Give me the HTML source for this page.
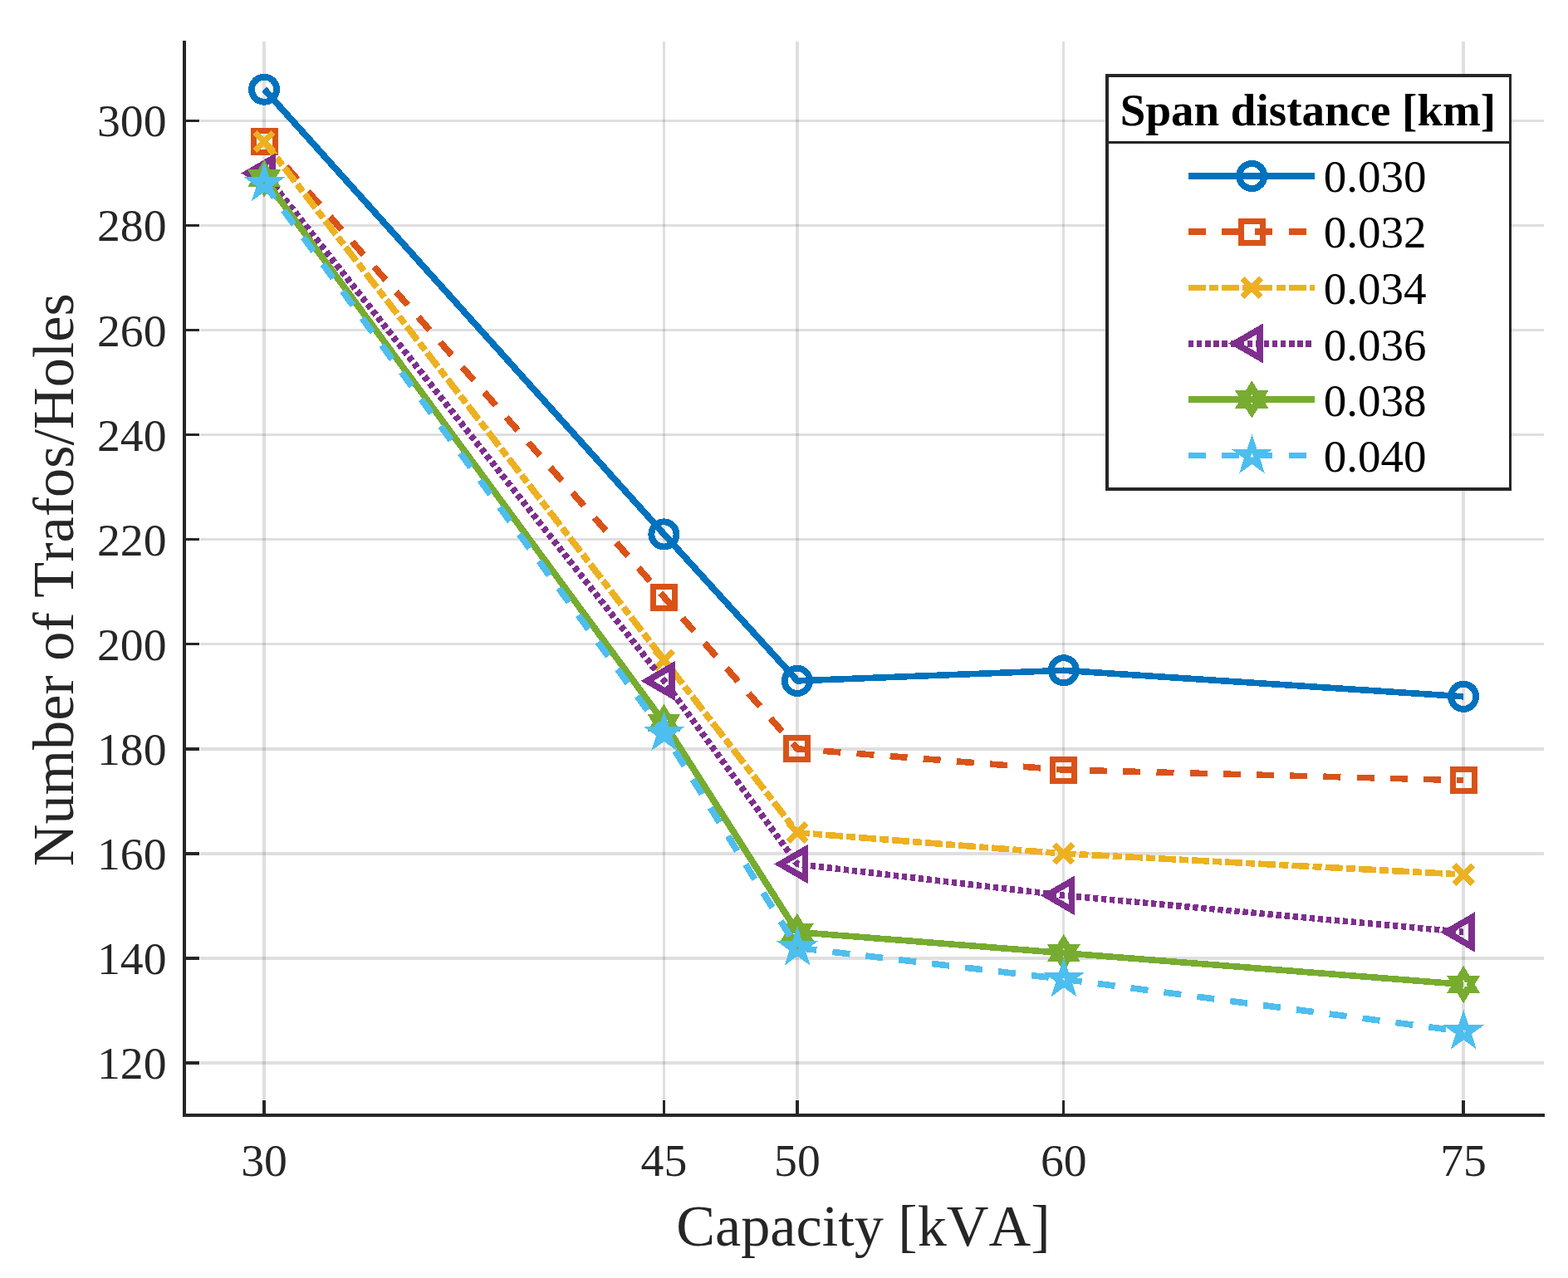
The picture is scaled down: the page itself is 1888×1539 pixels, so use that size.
<!DOCTYPE html>
<html lang="en">
<head>
<meta charset="utf-8">
<title>Number of Trafos/Holes vs Capacity</title>
<style>
html,body{margin:0;padding:0;background:#fff;}
body{width:1888px;height:1539px;overflow:hidden;}
svg{display:block;font-kerning:none;}
</style>
</head>
<body>
<svg width="1888" height="1539" viewBox="0 0 1888 1539" shape-rendering="crispEdges">
<rect width="1888" height="1539" fill="#fff"/>
<g fill="#262626" fill-opacity="0.15">
<rect x="316" y="50" width="4" height="1274"/>
<rect x="798" y="50" width="3" height="1274"/>
<rect x="958" y="50" width="4" height="1274"/>
<rect x="1279" y="50" width="3" height="1274"/>
<rect x="1760" y="50" width="4" height="1274"/>
<rect x="241" y="1278" width="1618" height="4"/>
<rect x="241" y="1152" width="1618" height="4"/>
<rect x="241" y="1026" width="1618" height="4"/>
<rect x="241" y="900" width="1618" height="4"/>
<rect x="241" y="774" width="1618" height="3"/>
<rect x="241" y="648" width="1618" height="3"/>
<rect x="241" y="522" width="1618" height="3"/>
<rect x="241" y="396" width="1618" height="3"/>
<rect x="241" y="270" width="1618" height="3"/>
<rect x="241" y="144" width="1618" height="3"/>
</g>
<g fill="#262626">
<rect x="220" y="49" width="4" height="1296"/>
<rect x="220" y="1341" width="1640" height="4"/>
<rect x="316" y="1325" width="4" height="17"/>
<rect x="798" y="1325" width="3" height="17"/>
<rect x="958" y="1325" width="4" height="17"/>
<rect x="1279" y="1325" width="3" height="17"/>
<rect x="1760" y="1325" width="4" height="17"/>
<rect x="223" y="1278" width="17" height="4"/>
<rect x="223" y="1152" width="17" height="4"/>
<rect x="223" y="1026" width="17" height="4"/>
<rect x="223" y="900" width="17" height="4"/>
<rect x="223" y="774" width="17" height="3"/>
<rect x="223" y="648" width="17" height="3"/>
<rect x="223" y="522" width="17" height="3"/>
<rect x="223" y="396" width="17" height="3"/>
<rect x="223" y="270" width="17" height="3"/>
<rect x="223" y="144" width="17" height="3"/>
</g>
<g font-family="'Liberation Serif', serif" font-size="55.7" fill="#262626">
<text x="318.1" y="1415.8" text-anchor="middle">30</text>
<text x="799.43" y="1415.8" text-anchor="middle">45</text>
<text x="959.88" y="1415.8" text-anchor="middle">50</text>
<text x="1280.77" y="1415.8" text-anchor="middle">60</text>
<text x="1762.1" y="1415.8" text-anchor="middle">75</text>
<text x="200.5" y="1299" text-anchor="end">120</text>
<text x="200.5" y="1173" text-anchor="end">140</text>
<text x="200.5" y="1047" text-anchor="end">160</text>
<text x="200.5" y="921" text-anchor="end">180</text>
<text x="200.5" y="795" text-anchor="end">200</text>
<text x="200.5" y="669" text-anchor="end">220</text>
<text x="200.5" y="543" text-anchor="end">240</text>
<text x="200.5" y="417" text-anchor="end">260</text>
<text x="200.5" y="290" text-anchor="end">280</text>
<text x="200.5" y="164" text-anchor="end">300</text>
</g>
<g font-family="'Liberation Serif', serif" font-size="70.2" fill="#262626">
<text x="1039.4" y="1500" text-anchor="middle">Capacity [kVA]</text>
<text transform="translate(88 698.3) rotate(-90)" text-anchor="middle">Number of Trafos/Holes</text>
</g>
<g>
<polyline points="318.1,107.68 799.43,643.42 959.88,819.9 1280.77,807.29 1762.1,838.81" fill="none" stroke="#0072BD" stroke-width="7.6" stroke-linejoin="round"/>
<polyline points="318.1,107.68 799.43,643.42 959.88,819.9" transform="translate(0.13 -0.12)" fill="none" stroke="#0072BD" stroke-width="7.95" stroke-linejoin="round"/>
<path d="M299.05 107.68A19.05 19.05 0 1 0 337.15 107.68A19.05 19.05 0 1 0 299.05 107.68ZM307 107.68A11.1 11.1 0 1 0 329.2 107.68A11.1 11.1 0 1 0 307 107.68Z" fill="#0072BD" fill-rule="evenodd"/>
<path d="M780.38 643.42A19.05 19.05 0 1 0 818.48 643.42A19.05 19.05 0 1 0 780.38 643.42ZM788.33 643.42A11.1 11.1 0 1 0 810.53 643.42A11.1 11.1 0 1 0 788.33 643.42Z" fill="#0072BD" fill-rule="evenodd"/>
<path d="M940.83 819.9A19.05 19.05 0 1 0 978.93 819.9A19.05 19.05 0 1 0 940.83 819.9ZM948.78 819.9A11.1 11.1 0 1 0 970.98 819.9A11.1 11.1 0 1 0 948.78 819.9Z" fill="#0072BD" fill-rule="evenodd"/>
<path d="M1261.72 807.29A19.05 19.05 0 1 0 1299.82 807.29A19.05 19.05 0 1 0 1261.72 807.29ZM1269.67 807.29A11.1 11.1 0 1 0 1291.87 807.29A11.1 11.1 0 1 0 1269.67 807.29Z" fill="#0072BD" fill-rule="evenodd"/>
<path d="M1743.05 838.81A19.05 19.05 0 1 0 1781.15 838.81A19.05 19.05 0 1 0 1743.05 838.81ZM1751 838.81A11.1 11.1 0 1 0 1773.2 838.81A11.1 11.1 0 1 0 1751 838.81Z" fill="#0072BD" fill-rule="evenodd"/>
</g>
<g>
<polyline points="318.1,170.71 799.43,719.05 959.88,901.83 1280.77,927.04 1762.1,939.65" fill="none" stroke="#D95319" stroke-width="7.6" stroke-linejoin="round" stroke-dasharray="21 19.2" stroke-dashoffset="0.5"/>
<polyline points="318.1,170.71 799.43,719.05 959.88,901.83" transform="translate(0.13 -0.12)" fill="none" stroke="#D95319" stroke-width="7.95" stroke-linejoin="round" stroke-dasharray="21 19.2" stroke-dashoffset="0.5"/>
<path d="M302 154h33v33h-33ZM309 161v19h19v-19Z" fill="#D95319" fill-rule="evenodd"/>
<path d="M783 703h33v33h-33ZM790 710v19h19v-19Z" fill="#D95319" fill-rule="evenodd"/>
<path d="M943 885h33v33h-33ZM950 892v19h19v-19Z" fill="#D95319" fill-rule="evenodd"/>
<path d="M1264 911h33v33h-33ZM1271 918v19h19v-19Z" fill="#D95319" fill-rule="evenodd"/>
<path d="M1746 923h33v33h-33ZM1753 930v19h19v-19Z" fill="#D95319" fill-rule="evenodd"/>
</g>
<g>
<polyline points="318.1,170.71 799.43,794.69 959.88,1002.68 1280.77,1027.89 1762.1,1053.1" fill="none" stroke="#EDB120" stroke-width="7.6" stroke-linejoin="round" stroke-dasharray="21 4.1 11 4.1" stroke-dashoffset="0.5"/>
<polyline points="318.1,170.71 799.43,794.69 959.88,1002.68" transform="translate(0.13 -0.12)" fill="none" stroke="#EDB120" stroke-width="7.95" stroke-linejoin="round" stroke-dasharray="21 4.1 11 4.1" stroke-dashoffset="0.5"/>
<path d="M309.55 157.06L331.75 179.26L326.65 184.36L304.45 162.16ZM309.55 184.36L304.45 179.26L326.65 157.06L331.75 162.16Z" fill="#EDB120"/>
<path d="M790.88 781.04L813.08 803.24L807.98 808.34L785.78 786.14ZM790.88 808.34L785.78 803.24L807.98 781.04L813.08 786.14Z" fill="#EDB120"/>
<path d="M951.33 989.03L973.53 1011.23L968.43 1016.33L946.23 994.13ZM951.33 1016.33L946.23 1011.23L968.43 989.03L973.53 994.13Z" fill="#EDB120"/>
<path d="M1272.22 1014.24L1294.42 1036.44L1289.32 1041.54L1267.12 1019.34ZM1272.22 1041.54L1267.12 1036.44L1289.32 1014.24L1294.42 1019.34Z" fill="#EDB120"/>
<path d="M1753.55 1039.45L1775.75 1061.65L1770.65 1066.75L1748.45 1044.55ZM1753.55 1066.75L1748.45 1061.65L1770.65 1039.45L1775.75 1044.55Z" fill="#EDB120"/>
</g>
<g>
<polyline points="318.1,208.53 799.43,819.9 959.88,1040.49 1280.77,1078.31 1762.1,1122.43" fill="none" stroke="#7E2F8E" stroke-width="7.6" stroke-linejoin="round" stroke-dasharray="6.3 3.77" stroke-dashoffset="0.5"/>
<polyline points="318.1,208.53 799.43,819.9 959.88,1040.49" transform="translate(0.13 -0.12)" fill="none" stroke="#7E2F8E" stroke-width="7.95" stroke-linejoin="round" stroke-dasharray="6.3 3.77" stroke-dashoffset="0.5"/>
<path d="M331.7 184.43L331.7 232.63L290.2 208.53ZM324 197.81L324 219.25L305.54 208.53Z" fill="#7E2F8E" fill-rule="evenodd"/>
<path d="M813.03 795.8L813.03 844L771.53 819.9ZM805.33 809.18L805.33 830.62L786.87 819.9Z" fill="#7E2F8E" fill-rule="evenodd"/>
<path d="M973.48 1016.39L973.48 1064.59L931.98 1040.49ZM965.78 1029.77L965.78 1051.21L947.32 1040.49Z" fill="#7E2F8E" fill-rule="evenodd"/>
<path d="M1294.37 1054.21L1294.37 1102.41L1252.87 1078.31ZM1286.67 1067.59L1286.67 1089.03L1268.21 1078.31Z" fill="#7E2F8E" fill-rule="evenodd"/>
<path d="M1775.7 1098.33L1775.7 1146.53L1734.2 1122.43ZM1768 1111.71L1768 1133.15L1749.54 1122.43Z" fill="#7E2F8E" fill-rule="evenodd"/>
</g>
<g>
<polyline points="318.1,214.83 799.43,870.32 959.88,1122.43 1280.77,1147.64 1762.1,1185.46" fill="none" stroke="#77AC30" stroke-width="7.6" stroke-linejoin="round"/>
<polyline points="318.1,214.83 799.43,870.32 959.88,1122.43" transform="translate(0.13 -0.12)" fill="none" stroke="#77AC30" stroke-width="7.95" stroke-linejoin="round"/>
<path d="M318.1 192.03L325.5 204.23L338.2 204.23L331.7 214.83L338.2 225.43L325.5 225.43L318.1 237.63L310.7 225.43L298 225.43L304.5 214.83L298 204.23L310.7 204.23ZM318.1 208.93L319.8 211.88L323.21 211.88L321.51 214.83L323.21 217.78L319.8 217.78L318.1 220.73L316.4 217.78L312.99 217.78L314.69 214.83L312.99 211.88L316.4 211.88Z" fill="#77AC30" fill-rule="evenodd"/>
<path d="M799.43 847.52L806.83 859.72L819.53 859.72L813.03 870.32L819.53 880.92L806.83 880.92L799.43 893.12L792.03 880.92L779.33 880.92L785.83 870.32L779.33 859.72L792.03 859.72ZM799.43 864.42L801.14 867.37L804.54 867.37L802.84 870.32L804.54 873.27L801.14 873.27L799.43 876.22L797.73 873.27L794.32 873.27L796.03 870.32L794.32 867.37L797.73 867.37Z" fill="#77AC30" fill-rule="evenodd"/>
<path d="M959.88 1099.63L967.28 1111.83L979.98 1111.83L973.48 1122.43L979.98 1133.03L967.28 1133.03L959.88 1145.23L952.48 1133.03L939.78 1133.03L946.28 1122.43L939.78 1111.83L952.48 1111.83ZM959.88 1116.53L961.58 1119.48L964.99 1119.48L963.28 1122.43L964.99 1125.38L961.58 1125.38L959.88 1128.33L958.17 1125.38L954.77 1125.38L956.47 1122.43L954.77 1119.48L958.17 1119.48Z" fill="#77AC30" fill-rule="evenodd"/>
<path d="M1280.77 1124.84L1288.17 1137.04L1300.87 1137.04L1294.37 1147.64L1300.87 1158.24L1288.17 1158.24L1280.77 1170.44L1273.37 1158.24L1260.67 1158.24L1267.17 1147.64L1260.67 1137.04L1273.37 1137.04ZM1280.77 1141.74L1282.47 1144.69L1285.88 1144.69L1284.17 1147.64L1285.88 1150.59L1282.47 1150.59L1280.77 1153.54L1279.06 1150.59L1275.66 1150.59L1277.36 1147.64L1275.66 1144.69L1279.06 1144.69Z" fill="#77AC30" fill-rule="evenodd"/>
<path d="M1762.1 1162.66L1769.5 1174.86L1782.2 1174.86L1775.7 1185.46L1782.2 1196.06L1769.5 1196.06L1762.1 1208.26L1754.7 1196.06L1742 1196.06L1748.5 1185.46L1742 1174.86L1754.7 1174.86ZM1762.1 1179.56L1763.8 1182.51L1767.21 1182.51L1765.51 1185.46L1767.21 1188.41L1763.8 1188.41L1762.1 1191.36L1760.4 1188.41L1756.99 1188.41L1758.69 1185.46L1756.99 1182.51L1760.4 1182.51Z" fill="#77AC30" fill-rule="evenodd"/>
</g>
<g>
<polyline points="318.1,221.13 799.43,882.92 959.88,1141.34 1280.77,1179.16 1762.1,1242.18" fill="none" stroke="#4DBEEE" stroke-width="7.6" stroke-linejoin="round" stroke-dasharray="21 19.2" stroke-dashoffset="0.5"/>
<polyline points="318.1,221.13 799.43,882.92 959.88,1141.34" transform="translate(0.13 -0.12)" fill="none" stroke="#4DBEEE" stroke-width="7.95" stroke-linejoin="round" stroke-dasharray="21 19.2" stroke-dashoffset="0.5"/>
<path d="M318.3 194.83L324.25 212.94L343.31 213.01L327.93 224.26L333.76 242.41L318.3 231.26L302.84 242.41L308.67 224.26L293.29 213.01L312.35 212.94ZM318.3 218.53L318.89 220.32L320.77 220.33L319.25 221.44L319.83 223.24L318.3 222.13L316.77 223.24L317.35 221.44L315.83 220.33L317.71 220.32Z" fill="#4DBEEE" fill-rule="evenodd"/>
<path d="M799.63 856.62L805.58 874.73L824.65 874.8L809.26 886.05L815.09 904.2L799.63 893.05L784.17 904.2L790 886.05L774.62 874.8L793.68 874.73ZM799.63 880.32L800.22 882.12L802.11 882.12L800.58 883.23L801.16 885.03L799.63 883.92L798.11 885.03L798.68 883.23L797.16 882.12L799.05 882.12Z" fill="#4DBEEE" fill-rule="evenodd"/>
<path d="M960.08 1115.04L966.03 1133.15L985.09 1133.21L969.71 1144.47L975.54 1162.62L960.08 1151.46L944.62 1162.62L950.45 1144.47L935.06 1133.21L954.13 1133.15ZM960.08 1138.74L960.67 1140.53L962.55 1140.54L961.03 1141.65L961.61 1143.44L960.08 1142.34L958.55 1143.44L959.13 1141.65L957.61 1140.54L959.49 1140.53Z" fill="#4DBEEE" fill-rule="evenodd"/>
<path d="M1280.97 1152.86L1286.92 1170.96L1305.98 1171.03L1290.6 1182.28L1296.43 1200.43L1280.97 1189.28L1265.51 1200.43L1271.34 1182.28L1255.95 1171.03L1275.02 1170.96ZM1280.97 1176.56L1281.55 1178.35L1283.44 1178.35L1281.92 1179.46L1282.49 1181.26L1280.97 1180.16L1279.44 1181.26L1280.02 1179.46L1278.49 1178.35L1280.38 1178.35Z" fill="#4DBEEE" fill-rule="evenodd"/>
<path d="M1762.3 1215.88L1768.25 1233.99L1787.31 1234.06L1771.93 1245.31L1777.76 1263.46L1762.3 1252.31L1746.84 1263.46L1752.67 1245.31L1737.29 1234.06L1756.35 1233.99ZM1762.3 1239.58L1762.89 1241.37L1764.77 1241.38L1763.25 1242.49L1763.83 1244.29L1762.3 1243.18L1760.77 1244.29L1761.35 1242.49L1759.83 1241.38L1761.71 1241.37Z" fill="#4DBEEE" fill-rule="evenodd"/>
</g>
<rect x="1331" y="89" width="489" height="502" fill="#262626"/>
<rect x="1335" y="93" width="482" height="77" fill="#fff"/>
<rect x="1335" y="173" width="482" height="414" fill="#fff"/>
<text x="1575" y="151" text-anchor="middle" font-family="'Liberation Serif', serif" font-weight="bold" font-size="55" fill="#000">Span distance [km]</text>
<path d="M1431 212H1583" fill="none" stroke="#0072BD" stroke-width="8"/>
<path d="M1488.25 212A19.05 19.05 0 1 0 1526.35 212A19.05 19.05 0 1 0 1488.25 212ZM1496.2 212A11.1 11.1 0 1 0 1518.4 212A11.1 11.1 0 1 0 1496.2 212Z" fill="#0072BD" fill-rule="evenodd"/>
<text x="1593.8" y="231" font-family="'Liberation Serif', serif" font-size="55" fill="#000">0.030</text>
<path d="M1431 279H1583" fill="none" stroke="#D95319" stroke-width="8" stroke-dasharray="21 19.2"/>
<path d="M1491 263h33v33h-33ZM1498 270v19h19v-19Z" fill="#D95319" fill-rule="evenodd"/>
<text x="1593.8" y="298" font-family="'Liberation Serif', serif" font-size="55" fill="#000">0.032</text>
<path d="M1431 346.5H1583" fill="none" stroke="#EDB120" stroke-width="7" stroke-dasharray="21 4.1 11 4.1"/>
<path d="M1498.75 332.85L1520.95 355.05L1515.85 360.15L1493.65 337.95ZM1498.75 360.15L1493.65 355.05L1515.85 332.85L1520.95 337.95Z" fill="#EDB120"/>
<text x="1593.8" y="366" font-family="'Liberation Serif', serif" font-size="55" fill="#000">0.034</text>
<path d="M1431 414H1583" fill="none" stroke="#7E2F8E" stroke-width="8" stroke-dasharray="6.3 3.8"/>
<path d="M1520.9 389.4L1520.9 437.6L1479.4 413.5ZM1513.2 402.78L1513.2 424.22L1494.74 413.5Z" fill="#7E2F8E" fill-rule="evenodd"/>
<text x="1593.8" y="434" font-family="'Liberation Serif', serif" font-size="55" fill="#000">0.036</text>
<path d="M1431 481H1583" fill="none" stroke="#77AC30" stroke-width="8"/>
<path d="M1507.3 458.2L1514.7 470.4L1527.4 470.4L1520.9 481L1527.4 491.6L1514.7 491.6L1507.3 503.8L1499.9 491.6L1487.2 491.6L1493.7 481L1487.2 470.4L1499.9 470.4ZM1507.3 475.1L1509 478.05L1512.41 478.05L1510.71 481L1512.41 483.95L1509 483.95L1507.3 486.9L1505.6 483.95L1502.19 483.95L1503.89 481L1502.19 478.05L1505.6 478.05Z" fill="#77AC30" fill-rule="evenodd"/>
<text x="1593.8" y="501" font-family="'Liberation Serif', serif" font-size="55" fill="#000">0.038</text>
<path d="M1431 548.5H1583" fill="none" stroke="#4DBEEE" stroke-width="7" stroke-dasharray="21 19.2"/>
<path d="M1507.5 522.6L1513.45 540.71L1532.51 540.77L1517.13 552.03L1522.96 570.18L1507.5 559.03L1492.04 570.18L1497.87 552.03L1482.49 540.77L1501.55 540.71ZM1507.5 546.3L1508.09 548.09L1509.97 548.1L1508.45 549.21L1509.03 551L1507.5 549.9L1505.97 551L1506.55 549.21L1505.03 548.1L1506.91 548.09Z" fill="#4DBEEE" fill-rule="evenodd"/>
<text x="1593.8" y="568" font-family="'Liberation Serif', serif" font-size="55" fill="#000">0.040</text>
</svg>
</body>
</html>
